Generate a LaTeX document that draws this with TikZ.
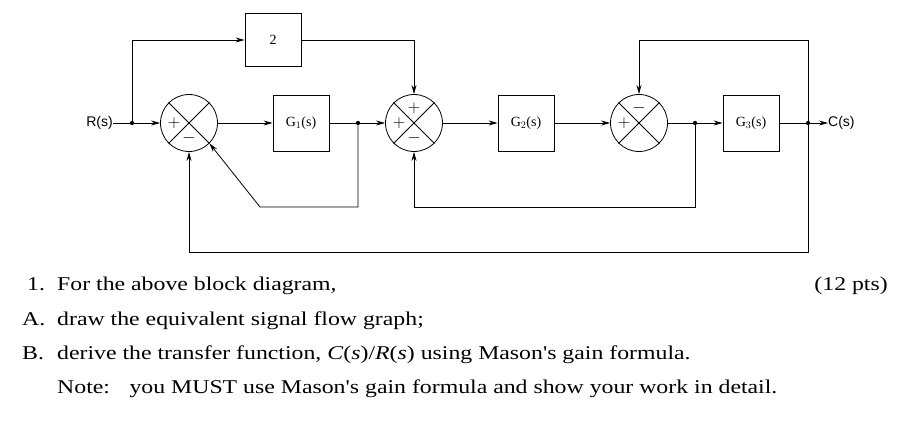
\documentclass[tikz,border=0pt]{standalone}
\usepackage{fontspec}
\setmainfont{Liberation Serif}
\newfontfamily\sansf{Liberation Sans}
\newfontfamily\qfont[FakeStretch=1.22]{Liberation Serif}
\usetikzlibrary{arrows.meta,calc}
\begin{document}
\begin{tikzpicture}[x=1pt,y=-1pt,
  sum/.style={circle,draw,thick,minimum size=57pt,inner sep=0pt},
  blk/.style={draw,thick,minimum width=56pt,minimum height=56pt,font=\fontsize{14}{14}\selectfont},
  sig/.style={thick,-{Stealth[length=9pt,width=5pt]}},
  ln/.style={thick},
  dot/.style={circle,fill,inner sep=1.5pt},
  sgn/.style={font=\fontsize{18}{18}\selectfont,inner sep=0pt},
  txt/.style={anchor=base west,inner sep=0pt,font=\qfont\fontsize{19.5}{22}\selectfont}]
\useasboundingbox (0,0) rectangle (903,444);
% nodes
\node[sum] (s1) at (189,123) {};
\node[sum] (s2) at (414,123) {};
\node[sum] (s3) at (639,123) {};
\foreach \s in {s1,s2,s3}{
  \draw[thick] (\s.45) -- (\s.225) (\s.135) -- (\s.315);}
\node[blk] (g1) at (301,123) {G$_1$(s)};
\node[blk] (g2) at (526,123) {G$_2$(s)};
\node[blk] (g3) at (751,123) {G$_3$(s)};
\node[blk,minimum height=53pt] (k) at (273,40) {2};
\node[anchor=east,inner sep=0pt,font=\sansf\fontsize{14}{14}\selectfont] (r) at (113,123) {R(s)};
\node[anchor=west,inner sep=0pt,font=\sansf\fontsize{14}{14}\selectfont] (c) at (828,123) {C(s)};
% signs
\node[sgn] at ($(s1)+(-15,0)$) {$+$};
\node[sgn] at ($(s1)+(0,15)$) {$-$};
\node[sgn] at ($(s2)+(-15,0)$) {$+$};
\node[sgn] at ($(s2)+(0,-15)$) {$+$};
\node[sgn] at ($(s2)+(0,15)$) {$-$};
\node[sgn] at ($(s3)+(-15,0)$) {$+$};
\node[sgn] at ($(s3)+(0,-15)$) {$-$};
% branch points
\node[dot] (b0) at (132,123) {};
\node[dot] (b1) at (358,123) {};
\node[dot] (b2) at (695,123) {};
\node[dot] (b3) at (808,123) {};
\coordinate (f1) at (260,207);
% forward path
\draw[ln] (r) -- (b0);
\draw[sig] (b0) -- (s1);
\draw[sig] (s1) -- (g1);
\draw[ln] (g1) -- (b1);
\draw[sig] (b1) -- (s2);
\draw[sig] (s2) -- (g2);
\draw[sig] (g2) -- (s3);
\draw[ln] (s3) -- (b2);
\draw[sig] (b2) -- (g3);
\draw[ln] (g3) -- (b3);
\draw[sig] (b3) -- (c);
% feedforward and feedback
\draw[sig] (b0) |- (k);
\draw[sig] (k) -| (s2);
\draw[sig] (b3) |- (639,40) -- (s3);
\draw[sig] (b1) |- (f1) -- (s1.-45);
\draw[sig] (b2) |- (414,207) -- (s2);
\draw[sig] (b3) |- (189,252) -- (s1);
% text
\node[txt] at (27,290) {1.};
\node[txt] at (57,290) {For the above block diagram,};
\node[txt,anchor=base east] at (888,290) {(12 pts)};
\node[txt] at (22,325) {A.};
\node[txt] at (57,325) {draw the equivalent signal flow graph;};
\node[txt] at (22,359) {B.};
\node[txt] at (57,359) {derive the transfer function, \textit{C}(\textit{s})/\textit{R}(\textit{s}) using Mason's gain formula.};
\node[txt] at (57,393) {Note:\quad you MUST use Mason's gain formula and show your work in detail.};
\end{tikzpicture}
\end{document}
